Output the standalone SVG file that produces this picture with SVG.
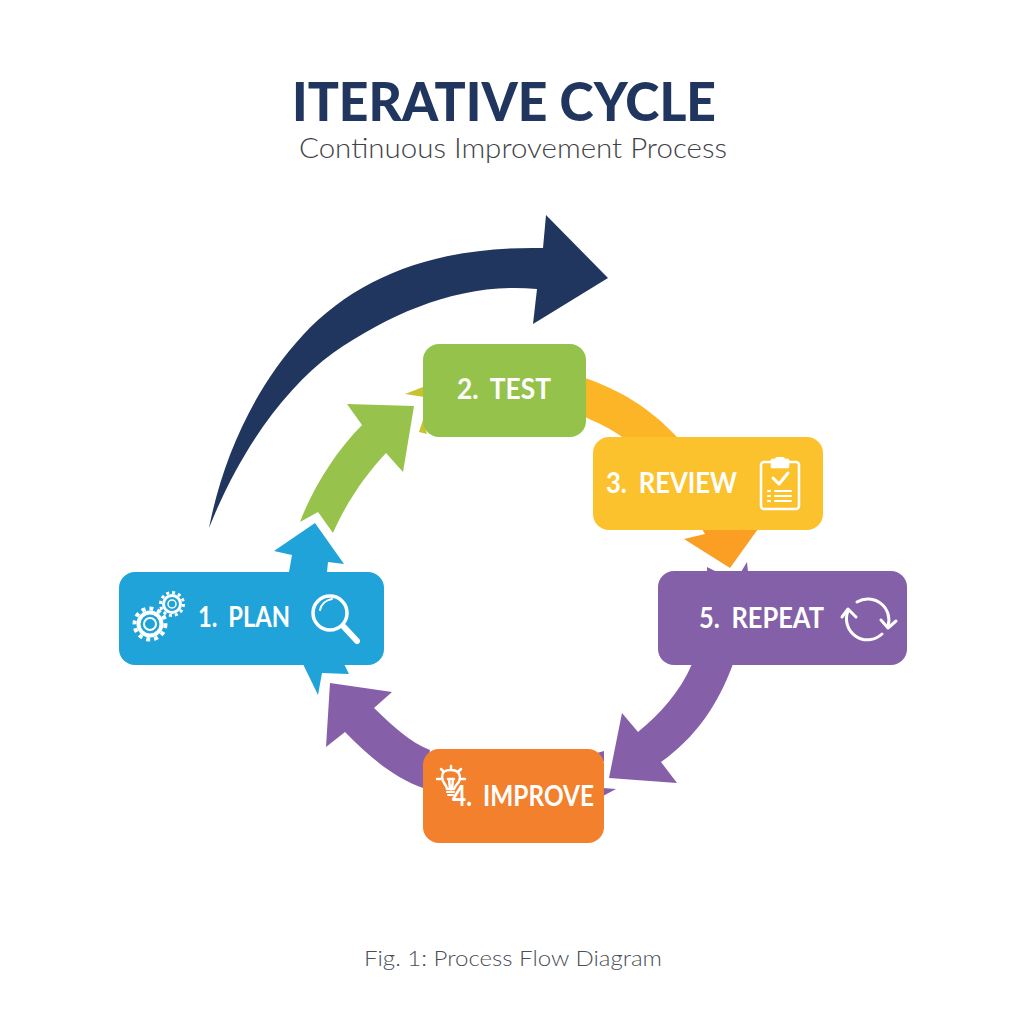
<svg xmlns="http://www.w3.org/2000/svg" width="1024" height="1024" viewBox="0 0 1024 1024">
<style>
.lb{font-family:"Lato","Liberation Sans",sans-serif;font-weight:700;font-size:28px;fill:#fff;word-spacing:6px}
.ic{fill:none;stroke:#fff;stroke-width:2.5;stroke-linecap:round;stroke-linejoin:round}
.ti{font-family:"Lato","Liberation Sans",sans-serif}
</style>
<rect width="1024" height="1024" fill="#fff"/>
<text class="ti" x="504" y="121" text-anchor="middle" font-size="53" font-weight="900" fill="#21365f" textLength="424" lengthAdjust="spacingAndGlyphs">ITERATIVE CYCLE</text>
<text class="ti" x="513" y="158" text-anchor="middle" font-size="28" font-weight="300" fill="#3f4247" textLength="428" lengthAdjust="spacingAndGlyphs">Continuous Improvement Process</text>
<text class="ti" x="513" y="966" text-anchor="middle" font-size="22" font-weight="300" fill="#4a4f56" textLength="298" lengthAdjust="spacingAndGlyphs">Fig. 1: Process Flow Diagram</text>
<g id="connectors">
<path fill="#21365f" d="M209 528C222 462 252 390 303 335C360 274 440 246 543 248L546 215L608 278L533 324L537 289C465 282 395 310 333 353C285 388 240 450 209 528Z"/>
<path fill="#97c24b" d="M300 522C312 490 335 452 362 425L347 404L414 406L403 472L386 453C365 475 345 505 333 533L318 512Z"/>
<path fill="#c8c22f" d="M405 394L423 387L424 397Z"/>
<path fill="#c8c22f" d="M419 432L423 420L427 434Z"/>
<path fill="#1fa3d8" d="M315 523L274 551L292 555L289 572L327 572L328 562L344 564Z"/>
<path fill="#1fa3d8" d="M303 664L318 695L322 673L349 674L344 664Z"/>
<path fill="#fbb526" d="M585 378C620 390 650 408 677 437L622 437C610 428 598 423 585 417Z"/>
<path fill="#fa9f24" d="M684 539L705 534L702 529L758 529L730 568Z"/>
<path fill="#8560a8" d="M707 567L717 572L707 572Z"/>
<path fill="#8560a8" d="M747 562L748 572L741 572Z"/>
<path fill="#8560a8" d="M692 664L733 664C718 705 695 738 661 762L677 783L609 778L622 713L638 732C660 714 680 692 692 664Z"/>
<path fill="#8560a8" d="M330 683L392 692L374 708C395 728 410 742 430 750L423 788C395 778 370 758 345 732L326 747Z"/>
<path fill="#8560a8" d="M597 753L604 751L604 762Z"/>
<path fill="#8560a8" d="M603 788L616 789L603 796Z"/>
</g>
<g id="node-plan">
<rect x="119" y="572" width="265" height="93" rx="16" fill="#1fa3d8"/>
<text class="lb" x="198" y="627" textLength="92" lengthAdjust="spacingAndGlyphs">1. PLAN</text>
<g fill="none" stroke="#fff">
<circle cx="150" cy="624" r="15.5" stroke-width="4" stroke-dasharray="4 4"/>
<circle cx="150" cy="624" r="11.5" stroke-width="4"/>
<circle cx="150" cy="624" r="6" stroke-width="2"/>
<circle cx="172" cy="604" r="11.5" stroke-width="3" stroke-dasharray="3 3"/>
<circle cx="172" cy="604" r="8.5" stroke-width="3"/>
<circle cx="172" cy="604" r="4" stroke-width="1.5"/>
</g>
<g class="ic">
<circle cx="330" cy="613" r="17" stroke-width="3.5"/>
<path d="M320 610C321 604 326 600 332 599" stroke-width="2"/>
<path d="M344 627L357 641" stroke-width="6"/>
</g>
</g>
<g id="node-test">
<rect x="423" y="344" width="163" height="93" rx="16" fill="#94c24b"/>
<text class="lb" x="457" y="399" textLength="94" lengthAdjust="spacingAndGlyphs">2. TEST</text>
</g>
<g id="node-review">
<rect x="593" y="437" width="230" height="93" rx="16" fill="#fcc22e"/>
<text class="lb" x="606" y="493" textLength="131" lengthAdjust="spacingAndGlyphs">3. REVIEW</text>
<g class="ic">
<rect x="761" y="462" width="38" height="47" rx="3"/>
<path d="M772 460H788V467H772Z" fill="#fff"/>
<path d="M777 459H783" stroke-width="4"/>
<path d="M773 478L779 484L788 473" stroke-width="3"/>
<path d="M768 491H770M775 491H791M768 496H770M775 496H791M768 501H770M775 501H791" stroke-width="2"/>
</g>
</g>
<g id="node-repeat">
<rect x="658" y="571" width="249" height="94" rx="16" fill="#8360a8"/>
<text class="lb" x="699" y="628" textLength="125" lengthAdjust="spacingAndGlyphs">5. REPEAT</text>
<g class="ic" stroke-width="3">
<path d="M857 602A21 21 0 0 1 888 626" stroke-width="3"/>
<path d="M882 634A21 21 0 0 1 848 611" stroke-width="3"/>
<path d="M881 620L888 628L896 621M842 617L848 609L856 617" stroke-width="3"/>
</g>
</g>
<g id="node-improve">
<rect x="423" y="749" width="181" height="94" rx="16" fill="#f3802c"/>
<g class="ic" stroke-width="1.6">
<path d="M447 789C447 785 442 783 442 777C442 771 446 770 451 770C456 770 460 772 460 778C460 783 455 785 454 789Z"/>
<path d="M447 792H454M448 795H453" stroke-width="2"/>
<path d="M448 779H454M449 779L450 789M453 779L452 789"/>
<path d="M437 779H440M462 779H465M441 769L443 771M461 769L459 771M451 766V768"/>
</g>
<text class="lb" x="452" y="806" textLength="142" lengthAdjust="spacingAndGlyphs">4. IMPROVE</text>
</g>
</svg>
